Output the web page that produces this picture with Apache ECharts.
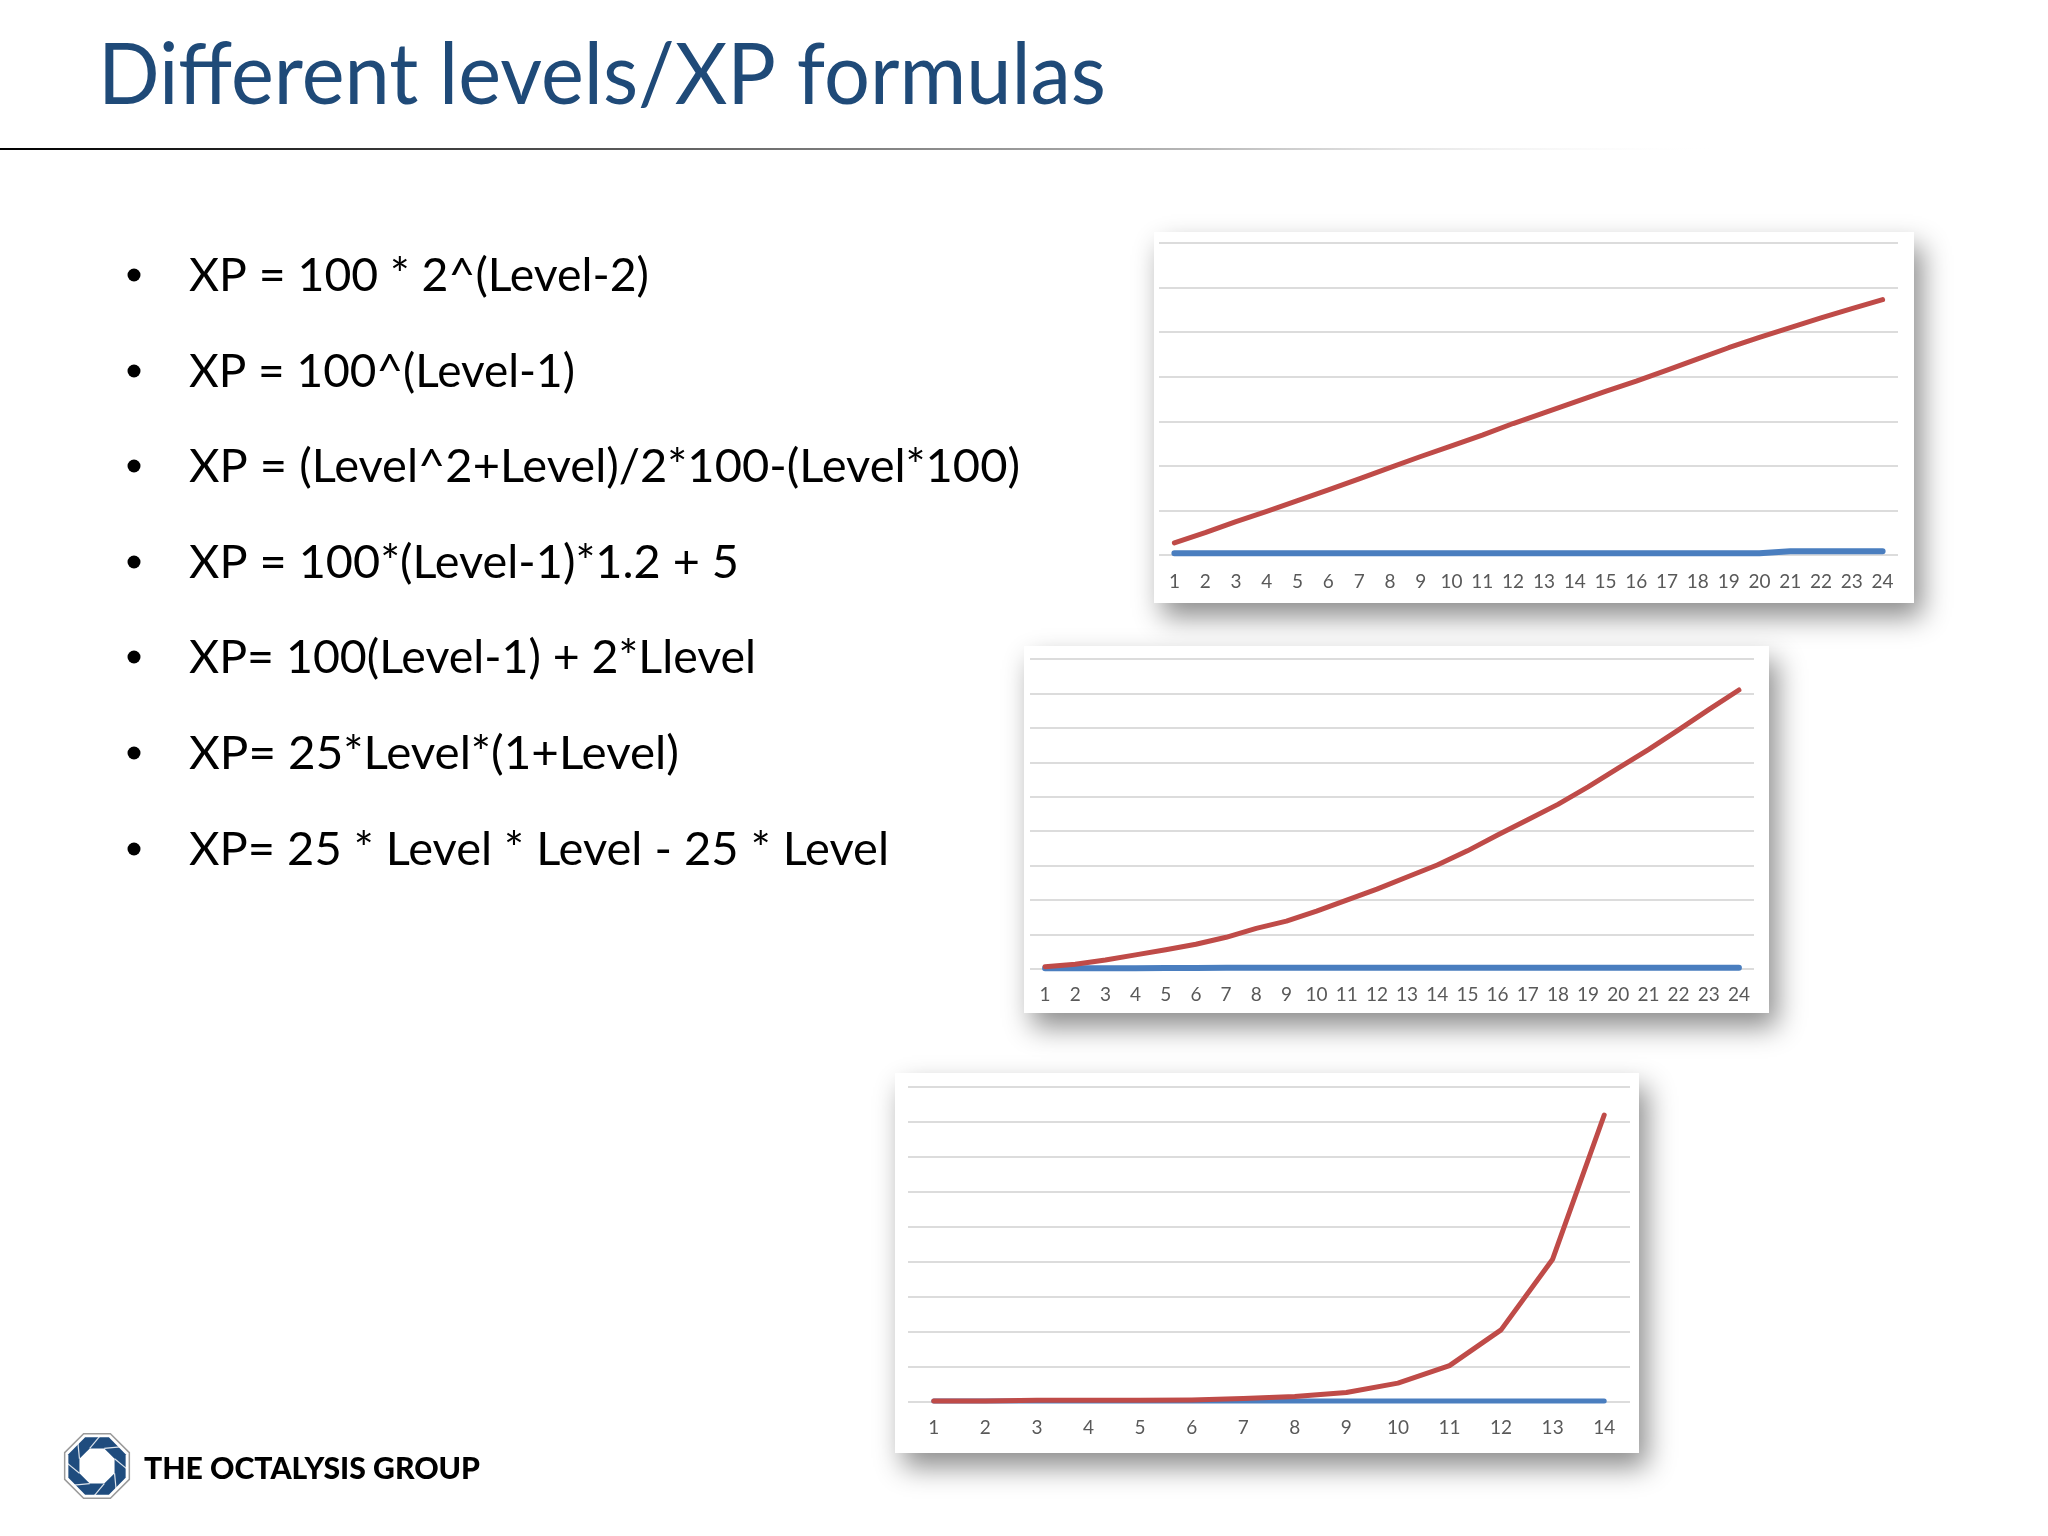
<!DOCTYPE html>
<html>
<head>
<meta charset="utf-8">
<script src="https://cdn.jsdelivr.net/npm/echarts@6/dist/echarts.min.js"></script>
<style>
html,body{margin:0;padding:0;background:#ffffff;}
#c{width:2048px;height:1536px;}
</style>
</head>
<body>
<div id="c"></div>
<script>
// ---------- text ----------
const titleText = 'Different levels/XP formulas';
const formulas = [
  'XP = 100 * 2^(Level-2)',
  'XP = 100^(Level-1)',
  'XP = (Level^2+Level)/2*100-(Level*100)',
  'XP = 100*(Level-1)*1.2 + 5',
  'XP= 100(Level-1) + 2*Llevel',
  'XP= 25*Level*(1+Level)',
  'XP= 25 * Level * Level - 25 * Level'
];
const brandText = 'THE OCTALYSIS GROUP';

// ---------- categories ----------
const levels24 = ['1','2','3','4','5','6','7','8','9','10','11','12','13','14','15','16','17','18','19','20','21','22','23','24'];
const levels14 = ['1','2','3','4','5','6','7','8','9','10','11','12','13','14'];

// ---------- chart 1 (linear) ----------
const chart1Blue = [20,20,20,20,20,20,20,20,20,20,20,20,20,20,20,20,20,20,20,20,42,42,42,42];
const chart1Red  = [135,250,375,490,610,730,855,980,1105,1225,1345,1475,1595,1715,1835,1950,2075,2200,2325,2440,2550,2660,2765,2865];

// ---------- chart 2 (quadratic) ----------
const chart2Blue = [40,40,45,50,55,65,70,70,70,70,70,70,70,70,70,70,70,70,70,70,70,70,70,70];
const chart2Red  = [136,272,520,820,1120,1440,1840,2360,2780,3360,4000,4640,5340,6040,6860,7780,8660,9560,10580,11660,12740,13880,15060,16200];

// ---------- chart 3 (exponential) ----------
const chart3Blue = [1500,1500,1500,1500,1500,1500,1500,1500,1500,1500,1500,1500,1500,1500];
const chart3Red  = [1500,1500,2500,2500,2500,3000,5000,8000,13500,27000,52000,103000,204000,410000];

// ---------- axis ranges ----------
const yMax = [3500, 18000, 450000];
const yStep = [500, 2000, 50000];

const BLUE = '#4A7EBF';
const RED = '#BF4B48';
const GRID = '#dcdcdc';
const LABEL = '#595959';

const mctx = document.createElement('canvas').getContext('2d');
function fitText(text, size, weight, family, x, yMid, width, fill) {
  mctx.font = weight + ' ' + size + 'px ' + family;
  const w = mctx.measureText(text).width;
  return {
    type: 'text', x: x, y: yMid, scaleX: width / w, z: 20,
    style: { text: text, fontSize: size, fontWeight: weight, fontFamily: family,
             fill: fill, align: 'left', verticalAlign: 'middle' }
  };
}
function octPoints(cx, cy, r, rotDeg) {
  const pts = [];
  for (let i = 0; i < 8; i++) {
    const a = (rotDeg + i * 45) * Math.PI / 180;
    pts.push([cx + r * Math.cos(a), cy + r * Math.sin(a)]);
  }
  return pts;
}

function build() {
  const graphics = [];
  // separator line
  graphics.push({
    type: 'rect', z: 1,
    shape: { x: 0, y: 148, width: 1720, height: 2 },
    style: { fill: { type: 'linear', x: 0, y: 0, x2: 1, y2: 0,
      colorStops: [{offset: 0, color: '#000000'}, {offset: 0.35, color: '#555555'},
                   {offset: 0.7, color: '#b8b8b8'}, {offset: 1, color: 'rgba(255,255,255,0)'}] } }
  });
  // title
  graphics.push(fitText(titleText, 86, 'normal', 'Lato', 98, 76, 1008, '#1F4A78'));
  // bullets
  const bulletY = [276, 372, 467, 563, 658, 754, 850];
  const bulletW = [460, 386, 831, 550, 567, 490, 700];
  formulas.forEach(function (f, i) {
    graphics.push({ type: 'circle', z: 20, shape: { cx: 134, cy: bulletY[i] - 1, r: 6.5 }, style: { fill: '#000' } });
    graphics.push(fitText(f, 47, 'normal', 'Lato', 189, bulletY[i], bulletW[i], '#000000'));
  });
  // chart panels
  const panels = [[1154, 232, 760, 371], [1024, 646, 745, 367], [895, 1073, 744, 380]];
  panels.forEach(function (p) {
    graphics.push({
      type: 'rect', z: 0,
      shape: { x: p[0], y: p[1], width: p[2], height: p[3] },
      style: { fill: '#ffffff', shadowBlur: 26, shadowColor: 'rgba(0,0,0,0.45)', shadowOffsetX: 8, shadowOffsetY: 14 }
    });
  });
  // logo
  const cx = 97, cy = 1466;
  graphics.push({ type: 'polygon', z: 20, shape: { points: octPoints(cx, cy, 35, 22.5) }, style: { fill: '#ffffff', stroke: '#9a9a9a', lineWidth: 1.5 } });
  graphics.push({ type: 'polygon', z: 20, shape: { points: octPoints(cx, cy, 31, 22.5) }, style: { fill: '#1F4C7E' } });
  graphics.push({ type: 'polygon', z: 20, shape: { points: octPoints(cx, cy, 19, 22.5) }, style: { fill: '#ffffff' } });
  for (let i = 0; i < 8; i++) {
    const a1 = (22.5 + i * 45) * Math.PI / 180;
    const a2 = (22.5 + i * 45 + 28) * Math.PI / 180;
    graphics.push({ type: 'line', z: 21,
      shape: { x1: cx + 19 * Math.cos(a1), y1: cy + 19 * Math.sin(a1), x2: cx + 30 * Math.cos(a2), y2: cy + 30 * Math.sin(a2) },
      style: { stroke: 'rgba(255,255,255,0.85)', lineWidth: 1.2 } });
  }
  graphics.push(fitText(brandText, 30, '900', 'Lato', 144, 1469, 336, '#000000'));

  const grids = [
    { left: 1159, top: 243, width: 739, height: 312 },
    { left: 1030, top: 659, width: 724, height: 310 },
    { left: 908, top: 1087, width: 722, height: 315 }
  ].map(function (g) { return Object.assign({ outerBoundsMode: 'none', containLabel: false }, g); });

  const cats = [levels24, levels24, levels14];
  const margins = [17, 16, 16];
  const xAxes = cats.map(function (c, i) {
    return { type: 'category', gridIndex: i, data: c, boundaryGap: true, z: 5,
      axisLine: { show: false }, axisTick: { show: false },
      axisLabel: { interval: 0, color: LABEL, fontSize: 19, fontFamily: 'Lato', margin: margins[i] } };
  });
  const yAxes = [0, 1, 2].map(function (i) {
    return { type: 'value', gridIndex: i, min: 0, max: yMax[i], interval: yStep[i], z: 5,
      axisLine: { show: false }, axisTick: { show: false }, axisLabel: { show: false },
      splitLine: { show: true, lineStyle: { color: GRID, width: 2 } } };
  });
  function line(data, color, gi, w) {
    return { type: 'line', xAxisIndex: gi, yAxisIndex: gi, data: data, z: 10,
      showSymbol: false, symbol: 'none', smooth: false,
      lineStyle: { color: color, width: w, cap: 'round', join: 'round' },
      itemStyle: { color: color } };
  }
  const series = [
    line(chart1Blue, BLUE, 0, 6), line(chart1Red, RED, 0, 5),
    line(chart2Blue, BLUE, 1, 6), line(chart2Red, RED, 1, 5),
    line(chart3Blue, BLUE, 2, 5), line(chart3Red, RED, 2, 5)
  ];

  const chart = echarts.init(document.getElementById('c'), null, { renderer: 'canvas', width: 2048, height: 1536 });
  chart.setOption({
    backgroundColor: '#ffffff',
    animation: false,
    grid: grids,
    xAxis: xAxes,
    yAxis: yAxes,
    series: series,
    graphic: { elements: graphics }
  });
}
if (document.fonts && document.fonts.load) {
  Promise.all([document.fonts.load('86px Lato'), document.fonts.load('900 30px Lato')]).then(build, build);
} else { build(); }
</script>
</body>
</html>
